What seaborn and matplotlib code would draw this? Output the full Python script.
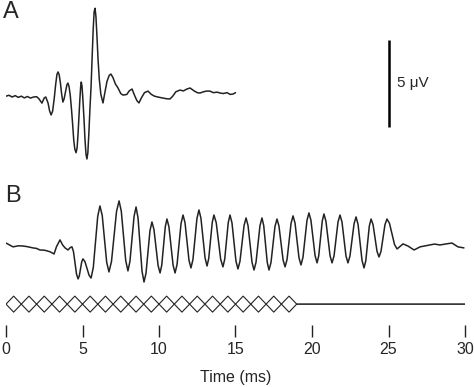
import matplotlib
matplotlib.use('Agg')
import matplotlib.pyplot as plt
import seaborn as sns
import pandas as pd

sns.set_style('white')
plt.rcParams['font.family'] = ['Liberation Sans', 'DejaVu Sans']

# Trace A: single evoked response (time in ms, amplitude in uV)
a_time = [0.0, 0.2, 0.4, 0.6, 0.8, 1.0, 1.2, 1.4, 1.6, 1.8, 2.0, 2.15, 2.35, 2.5, 2.6,
          2.75, 2.85, 2.95, 3.05, 3.15, 3.25, 3.33, 3.4, 3.47, 3.55, 3.64, 3.72, 3.8,
          3.9, 3.98, 4.05, 4.12, 4.2, 4.28, 4.35, 4.43, 4.5, 4.58, 4.65, 4.71, 4.77,
          4.83, 4.88, 4.92, 4.97, 5.03, 5.1, 5.16, 5.23, 5.29, 5.35, 5.42, 5.49, 5.56,
          5.63, 5.7, 5.76, 5.82, 5.88, 5.95, 6.02, 6.1, 6.2, 6.34, 6.45, 6.6, 6.75,
          6.86, 7.0, 7.15, 7.32, 7.5, 7.65, 7.9, 8.05, 8.24, 8.4, 8.55, 8.69, 8.85, 9.05,
          9.28, 9.5, 9.7, 9.93, 10.2, 10.5, 10.72, 10.9, 11.1, 11.37, 11.6, 11.8, 12.03,
          12.3, 12.5, 12.68, 12.9, 13.1, 13.33, 13.55, 13.8, 13.99, 14.2, 14.45, 14.65,
          14.84, 15.0]
a_uv = [0.05, 0.1, 0.0, 0.08, -0.02, 0.05, -0.05, 0.03, -0.06, 0.0, 0.02, -0.1, -0.35,
        -0.05, 0.0, -0.35, -0.8, -1.03, -0.8, -0.1, 0.75, 1.3, 1.44, 1.3, 0.85, 0.15,
        -0.29, -0.1, 0.35, 0.7, 0.8, 0.6, 0.1, -0.7, -1.5, -2.5, -3.0, -3.2, -2.9,
        -2.1, -1.1, -0.1, 0.6, 0.86, 0.6, -0.2, -1.3, -2.4, -3.3, -3.56, -3.2, -2.0,
        -0.6, 0.6, 2.3, 3.9, 4.9, 5.1, 4.6, 3.4, 2.1, 1.0, 0.15, -0.34, 0.2, 0.9, 1.25,
        1.32, 1.1, 0.75, 0.52, 0.2, 0.11, 0.15, 0.35, 0.46, 0.1, -0.2, -0.34, -0.05,
        0.25, 0.34, 0.15, 0.05, 0.0, -0.05, -0.1, -0.11, 0.05, 0.3, 0.4, 0.35, 0.45,
        0.52, 0.35, 0.25, 0.23, 0.3, 0.34, 0.34, 0.25, 0.28, 0.23, 0.2, 0.25, 0.15,
        0.17, 0.25]

# Trace B: response to the tone burst
b_time = [0.0, 0.46, 0.8, 1.11, 1.4, 1.76, 2.0, 2.22, 2.5, 2.68, 2.9, 3.14, 3.3, 3.53,
          3.7, 3.86, 4.05, 4.2, 4.31, 4.41, 4.51, 4.61, 4.71, 4.79, 4.87, 4.95, 5.03,
          5.16, 5.295, 5.43, 5.56,
          5.705, 5.85, 5.995, 6.14, 6.29, 6.435, 6.58, 6.73, 6.895, 7.06, 7.225, 7.39,
          7.535, 7.68, 7.825, 7.97, 8.1, 8.235, 8.37, 8.5, 8.63, 8.76, 8.89, 9.02,
          9.15, 9.28, 9.41, 9.54, 9.67, 9.805, 9.94, 10.07, 10.18, 10.295, 10.41, 10.52,
          10.65, 10.785, 10.92, 11.05, 11.18, 11.31, 11.44, 11.57, 11.7, 11.83, 11.96,
          12.09, 12.22, 12.35, 12.48, 12.61, 12.74, 12.875, 13.01, 13.14, 13.25, 13.365,
          13.48, 13.59, 13.74, 13.885, 14.03, 14.18, 14.295, 14.41, 14.525, 14.64,
          14.77, 14.9, 15.03, 15.16, 15.29, 15.425, 15.56, 15.69, 15.82, 15.95, 16.08,
          16.21, 16.34, 16.47, 16.6, 16.73, 16.845, 16.96, 17.075, 17.19, 17.32, 17.45,
          17.58, 17.71, 17.84, 17.975, 18.11, 18.24, 18.37, 18.5, 18.63, 18.76, 18.89,
          19.02, 19.15, 19.28, 19.41, 19.54, 19.67, 19.8, 19.93, 20.065, 20.2, 20.33,
          20.44, 20.555, 20.67, 20.78, 20.91, 21.045, 21.18, 21.31, 21.44, 21.57, 21.7,
          21.83, 21.96, 22.09, 22.22, 22.35, 22.48, 22.615, 22.75, 22.88, 23.01, 23.14,
          23.27, 23.4, 23.515, 23.63, 23.745, 23.86, 23.99, 24.12, 24.25, 24.38, 24.51,
          24.64, 24.77, 24.9, 25.065, 25.23, 25.395, 25.56,
          25.95, 26.27, 26.67, 27.06, 27.4, 27.71, 28.0, 28.37, 28.7, 29.15, 29.54, 29.93]
b_uv = [0.11, -0.11, -0.05, -0.06, -0.1, -0.17, -0.2, -0.29, -0.3, -0.34, -0.4, -0.52,
        -0.1, 0.29, 0.0, -0.17, -0.29, -0.15, -0.11, -0.38, -1.03, -1.68, -1.95, -1.78,
        -1.38, -0.97, -0.8, -0.96, -1.35, -1.74, -1.9,
        -1.3, 0.17, 1.64, 2.24, 1.69, 0.35, -0.99, -1.55, -0.95, 0.49, 1.93, 2.53,
        1.94, 0.52, -0.9, -1.49, -0.95, 0.35, 1.64, 2.18, 1.55, 0.03, -1.5, -2.13,
        -1.63, -0.41, 0.82, 1.32, 0.89, -0.15, -1.18, -1.61, -1.16, -0.06, 1.04, 1.49,
        1.04, -0.06, -1.16, -1.61, -1.12, 0.06, 1.23, 1.72, 1.28, 0.2, -0.88,
        -1.32, -0.83, 0.35, 1.52, 2.01, 1.54, 0.4, -0.74, -1.21, -0.78, 0.26,
        1.29, 1.72, 1.28, 0.23, -0.82, -1.26, -0.82, 0.23, 1.28, 1.72,
        1.27, 0.17, -0.93, -1.38, -0.95, 0.09, 1.12, 1.55, 1.11, 0.06, -1.0,
        -1.44, -1.0, 0.06, 1.11, 1.55, 1.11, 0.06, -1.0, -1.44, -1.01, 0.03,
        1.06, 1.49, 1.09, 0.12, -0.86, -1.26, -0.83, 0.21, 1.24, 1.67, 1.26,
        0.26, -0.74, -1.15, -0.71, 0.35, 1.4, 1.84, 1.42, 0.41, -0.61, -1.03,
        -0.62, 0.38, 1.37, 1.78, 1.37, 0.38, -0.62, -1.03, -0.63, 0.35, 1.32,
        1.72, 1.32, 0.35, -0.63, -1.03, -0.64, 0.29, 1.22, 1.61, 1.18, 0.15,
        -0.89, -1.32, -0.91, 0.09, 1.08, 1.49, 1.17, 0.4, -0.37, -0.69, -0.37,
        0.4, 1.17, 1.49, 1.24, 0.63, 0.02, -0.23,
        0.06, -0.06, -0.29, -0.11, -0.05, 0.0, 0.05, 0.0, 0.05, 0.11, -0.11, -0.17]

# Stimulus envelope (tone burst 0-19 ms), relative units
stim_time = [0, 0.5, 1, 1.5, 2, 2.5, 3, 3.5, 4, 4.5, 5, 5.5, 6, 6.5, 7, 7.5, 8, 8.5,
             9, 9.5, 10, 10.5, 11, 11.5, 12, 12.5, 13, 13.5, 14, 14.5, 15, 15.5, 16,
             16.5, 17, 17.5, 18, 18.5, 19, 30]
stim_env = [0, 1, 0, 1, 0, 1, 0, 1, 0, 1, 0, 1, 0, 1, 0, 1, 0, 1, 0, 1, 0, 1, 0, 1,
            0, 1, 0, 1, 0, 1, 0, 1, 0, 1, 0, 1, 0, 1, 0, 0]

tick_ms = [0, 5, 10, 15, 20, 25, 30]
scale_uv = 5

b_offset = -8.5
stim_offset = -11.9
stim_half = 0.46
trace_color = '#222222'

df_a = pd.DataFrame({'t': a_time, 'v': a_uv})
df_b = pd.DataFrame({'t': b_time, 'v': [v + b_offset for v in b_uv]})
df_su = pd.DataFrame({'t': stim_time, 'v': [stim_offset + stim_half * e for e in stim_env]})
df_sl = pd.DataFrame({'t': stim_time, 'v': [stim_offset - stim_half * e for e in stim_env]})

fig = plt.figure(figsize=(4.74, 3.87), dpi=100)
ax = fig.add_axes([6 / 474, 62 / 387, 459 / 474, 325 / 387])

for df, lw in [(df_a, 1.1), (df_b, 1.1), (df_su, 0.8), (df_sl, 0.8)]:
    sns.lineplot(data=df, x='t', y='v', ax=ax, color=trace_color, lw=lw,
                 estimator=None, sort=False)

# scale bar
ax.plot([25, 25], [-1.72, -1.72 + scale_uv], color='black', lw=1.8, solid_capstyle='butt')
ax.text(25.56, 0.8, '5 \u03bcV', fontsize=11, ha='left', va='center')

ax.set_xlim(0, 30)
ax.set_ylim(-13.1, 5.575)
ax.set_xticks(tick_ms)
ax.set_xticklabels([str(t) for t in tick_ms])
ax.set_yticks([])
ax.tick_params(axis='x', bottom=True, direction='out', length=8.6, width=1,
               pad=4, labelsize=11.5, color='#222222')
sns.despine(ax=ax, left=True, bottom=True)
ax.set_xlabel('Time (ms)', fontsize=11.5, labelpad=9)
ax.set_ylabel('')

fig.text(3 / 474, 1 - 1 / 387, 'A', fontsize=17, ha='left', va='top')
fig.text(5 / 474, 1 - 185 / 387, 'B', fontsize=17, ha='left', va='top')

fig.savefig('out.png', dpi=100)
